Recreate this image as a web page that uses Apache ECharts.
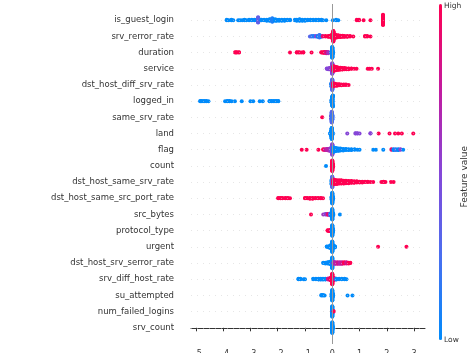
<!DOCTYPE html>
<html>
<head>
<meta charset="utf-8">
<title>shap summary</title>
<script src="https://cdn.jsdelivr.net/npm/echarts@6/dist/echarts.min.js"></script>
<style>
html, body { margin: 0; padding: 0; background: #fff; }
#chart { width: 474px; height: 353px; }
</style>
</head>
<body>
<div id="chart"></div>
<script>
// feature names, top to bottom
var features = ['is_guest_login', 'srv_rerror_rate', 'duration', 'service', 'dst_host_diff_srv_rate',
  'logged_in', 'same_srv_rate', 'land', 'flag', 'count', 'dst_host_same_srv_rate',
  'dst_host_same_src_port_rate', 'src_bytes', 'protocol_type', 'urgent', 'dst_host_srv_serror_rate',
  'srv_diff_host_rate', 'su_attempted', 'num_failed_logins', 'srv_count'];

// [shap value, feature value (0 low .. 1 high), number of samples]
var is_guest_login = [[-3.87,0,2],[-3.8,0,1],[-3.7,0,2],[-3.63,0,1],[-3.45,0,1],[-3.38,0,1],[-3.3,0,1],
  [-3.22,0,2],[-3.15,0,1],[-3.05,0,2],[-2.95,0,2],[-2.85,0,2],[-2.78,0,2],[-2.72,0.35,12],[-2.6,0,2],
  [-2.5,0,2],[-2.4,0,3],[-2.3,0,4],[-2.2,0.1,8],[-2.1,0,4],[-2.04,0,3],[-1.95,0,3],[-1.85,0,3],
  [-1.75,0,3],[-1.65,0,2],[-1.55,0,2],[-1.37,0,2],[-1.3,0,3],[-1.2,0,4],[-1.1,0,3],[-1.0,0,3],
  [-0.9,0,2],[-0.8,0,2],[-0.7,0,2],[-0.6,0,2],[-0.5,0,2],[-0.4,0,2],[-0.34,0,1],[-0.22,0,1],
  [0.02,0,1],[0.14,0,2],[0.22,0,1],[0.9,1,2],[0.98,1,2],[1.15,1,1],[1.4,1,1],[1.86,1,22]];
var srv_rerror_rate = [[-0.82,0.3,1],[-0.75,0.2,2],[-0.68,0.1,2],[-0.6,0.5,2],[-0.53,0,3],[-0.47,0.2,8],
  [-0.42,0.1,3],[-0.35,0.9,2],[-0.25,1,2],[-0.15,1,3],[-0.08,1,4],[0.0,1,12],[0.04,1,30],[0.1,1,10],
  [0.16,1,7],[0.22,1,6],[0.3,1,5],[0.38,1,4],[0.45,1,3],[0.55,1,3],[0.65,1,2],[0.77,1,1],[1.2,1,2],
  [1.28,1,2],[1.4,1,1]];
var duration = [[-3.56,1,2],[-3.5,1,2],[-3.42,1,2],[-1.55,1,1],[-1.3,1,2],[-1.22,1,2],[-1.14,1,1],
  [-1.06,1,2],[-0.76,1,1],[-0.4,1,2],[-0.33,1,3],[-0.27,1,4],[-0.22,0.8,5],[-0.17,1,3],[-0.15,0.6,2],
  [-0.02,0,10],[0.0,0,30],[0.02,0,8]];
var service = [[-0.2,0.5,2],[-0.15,0.5,3],[-0.1,0.5,4],[-0.05,0.55,6],[0,0.5,30],[0.04,1,14],[0.08,1,12],
  [0.13,1,10],[0.18,1,8],[0.24,1,7],[0.3,1,6],[0.37,1,5],[0.45,1,4],[0.52,1,3],[0.6,1,3],[0.7,1,2],
  [0.8,1,1],[0.89,1,1],[1.3,1,1],[1.37,1,1],[1.45,1,1],[1.68,1,1]];
var dst_host_diff_srv_rate = [[-0.03,0.1,10],[0,0.3,30],[0.03,1,10],[0.1,1,6],[0.17,1,5],[0.25,1,4],
  [0.33,1,3],[0.42,1,2],[0.5,1,2],[0.6,1,1]];
var logged_in = [[-4.84,0,2],[-4.78,0,2],[-4.7,0,2],[-4.62,0,2],[-4.54,0,1],[-3.93,0,1],[-3.85,0,2],
  [-3.77,0,2],[-3.69,0,1],[-3.57,0,1],[-3.32,0,1],[-3.0,0,1],[-2.9,0,1],[-2.66,0,1],[-2.55,0,1],
  [-2.3,0,2],[-2.22,0,2],[-2.14,0,2],[-2.06,0,2],[-1.98,0,2],[-0.02,0,15],[0,0,40],[0.02,0,10]];
var same_srv_rate = [[-0.37,1,1],[-0.04,0.4,8],[-0.02,0.3,30],[0,0.2,15]];
var land = [[-0.06,0,10],[-0.04,0,20],[-0.02,0,30],[0,0,15],[0.55,0.5,1],[0.85,0.5,2],[0.92,0.5,2],
  [1.0,0.5,1],[1.4,0.5,2],[1.7,1,1],[2.1,1,1],[2.3,1,1],[2.42,1,1],[2.55,1,1],[2.97,1,1]];
var flag = [[-1.12,1,1],[-0.94,1,1],[-0.51,1,1],[-0.33,1,2],[-0.27,0.8,3],[-0.2,0.7,4],[-0.14,0.7,5],
  [-0.08,0.6,7],[-0.03,0.5,12],[0,0.5,30],[0.04,0,14],[0.1,0,10],[0.16,0,8],[0.23,0,7],[0.3,0,6],
  [0.4,0,5],[0.5,0,4],[0.6,0,3],[0.7,0,3],[0.82,0,2],[0.92,0,1],[1.0,0,1],[1.5,0,1],[1.6,0,1],
  [1.87,0,1],[2.17,0.9,2],[2.25,0,3],[2.33,0.2,3],[2.42,0,3],[2.5,0.5,2],[2.6,0,1]];
var count = [[-0.23,0,1],[-0.01,0,10],[0,1,30],[0.02,1,10]];
var dst_host_same_srv_rate = [[-0.02,0,15],[0,0.3,30],[0.04,1,14],[0.1,1,12],[0.17,1,11],[0.25,1,10],
  [0.33,1,10],[0.42,1,9],[0.5,1,8],[0.6,1,7],[0.7,1,6],[0.8,1,5],[0.9,1,4],[1.0,1,3],[1.1,1,3],
  [1.2,1,2],[1.3,1,2],[1.4,1,1],[1.5,1,1],[1.8,1,1],[1.88,1,2],[1.95,1,1],[2.15,1,1],[2.25,1,1]];
var dst_host_same_src_port_rate = [[-1.98,1,2],[-1.9,1,2],[-1.83,1,2],[-1.72,1,2],[-1.63,1,2],[-1.55,1,1],
  [-1.0,1,2],[-0.92,1,2],[-0.82,1,3],[-0.72,1,3],[-0.62,1,2],[-0.52,1,2],[-0.42,1,2],[-0.34,1,1],
  [-0.02,0,10],[0,0,30],[0.02,0,8]];
var src_bytes = [[-0.78,1,1],[-0.33,0.6,1],[-0.25,0.5,2],[-0.2,0.6,2],[-0.15,0.9,3],[-0.08,0.3,5],
  [-0.03,0,10],[0,0,30],[0.03,0,6],[0.28,0,1]];
var protocol_type = [[-0.17,1,2],[-0.12,1,3],[-0.07,1,4],[-0.03,0.8,3],[0,0,30],[0.02,0,10]];
var urgent = [[-0.2,0,2],[-0.12,0,5],[-0.05,0,10],[0,0,30],[0.05,0,8],[0.1,0,3],[1.68,1,1],[2.72,1,1]];
var dst_host_srv_serror_rate = [[-0.33,0,2],[-0.25,0,3],[-0.17,0,4],[-0.1,0,6],[-0.04,0,10],[0,0,30],
  [0.05,0.6,6],[0.12,0.7,5],[0.2,0.8,5],[0.28,0.7,5],[0.36,0.8,5],[0.44,1,4],[0.52,0.8,4],[0.6,1,3],
  [0.66,1,2]];
var srv_diff_host_rate = [[-1.24,0,2],[-1.17,0,2],[-1.05,0,1],[-1.0,0,1],[-0.7,0,2],[-0.6,0,2],[-0.5,0,3],
  [-0.42,0,3],[-0.34,0,3],[-0.25,0,3],[-0.15,0.8,4],[-0.06,1,8],[0,1,30],[0.04,1,8],[0.1,0.8,4],
  [0.15,0,3],[0.25,0,2],[0.35,0,2],[0.45,0,2],[0.52,0,1]];
var su_attempted = [[-0.4,0,2],[-0.34,0,2],[-0.28,0,1],[-0.02,0,10],[0,0,30],[0.02,0,8],[0.56,0,1],[0.74,0,1]];
var num_failed_logins = [[-0.01,0,10],[0,0,30],[0.01,0,8],[0.05,1,2]];
var srv_count = [[-0.01,0,10],[0,0,30],[0.01,0,8]];

var rows = [is_guest_login, srv_rerror_rate, duration, service, dst_host_diff_srv_rate, logged_in,
  same_srv_rate, land, flag, count, dst_host_same_srv_rate, dst_host_same_src_port_rate, src_bytes,
  protocol_type, urgent, dst_host_srv_serror_rate, srv_diff_host_rate, su_attempted, num_failed_logins,
  srv_count];

var xTicks = [-5, -4, -3, -2, -1, 0, 1, 2, 3];

// beeswarm stacking like shap: bin the values, stack each bin up/down
function swarm(entries, pos) {
  var pts = [];
  entries.forEach(function (e) {
    for (var k = 0; k < e[2]; k++) pts.push([e[0], e[1]]);
  });
  var order = pts.map(function (p, i) { return i; });
  order.sort(function (a, b) { return (pts[a][0] - pts[b][0]) || (a - b); });
  var lo = pts[order[0]][0], hi = pts[order[order.length - 1]][0];
  var ys = [], last = null, layer = 0;
  order.forEach(function (i) {
    var q = Math.round(100 * (pts[i][0] - lo) / (hi - lo + 1e-8));
    if (q !== last) { layer = 0; last = q; }
    ys[i] = Math.ceil(layer / 2) * ((layer % 2) * 2 - 1);
    layer++;
  });
  var m = Math.max.apply(null, ys.map(function (y) { return y + 1; }));
  var s = 0.9 * 0.4 / m;
  return pts.map(function (p, i) { return [p[0], pos + ys[i] * s, p[1]]; });
}

var N = features.length;
var points = [];
rows.forEach(function (r, i) {
  points = points.concat(swarm(r, N - 1 - i));
});

var chart = echarts.init(document.getElementById('chart'));
chart.setOption({
  animation: false,
  textStyle: { fontFamily: 'DejaVu Sans' },
  grid: { left: 191, right: 49, top: 4, bottom: 9, containLabel: false, outerBoundsMode: 'none' },
  xAxis: {
    type: 'value',
    min: -5.18,
    max: 3.4,
    axisLine: { show: true, lineStyle: { color: '#333', width: 1 } },
    axisTick: { show: true, customValues: xTicks, length: 3.5, lineStyle: { color: '#333' } },
    axisLabel: {
      customValues: xTicks,
      fontSize: 8,
      color: '#333',
      margin: 6,
      formatter: function (v) { return v < 0 ? '\u2212' + (-v) : '' + v; }
    },
    splitLine: { show: false }
  },
  yAxis: {
    type: 'value',
    min: -1,
    max: N,
    interval: 1,
    axisLine: { show: false },
    axisTick: { show: false },
    splitLine: { show: false },
    axisLabel: {
      fontSize: 8.5,
      color: '#333',
      margin: 17,
      formatter: function (v) {
        var i = N - 1 - v;
        return (i >= 0 && i < N) ? features[i] : '';
      }
    }
  },
  visualMap: {
    type: 'continuous',
    dimension: 2,
    min: 0,
    max: 1,
    calculable: false,
    orient: 'vertical',
    left: 439,
    top: 4,
    padding: 0,
    itemWidth: 3,
    itemHeight: 336,
    seriesIndex: 1,
    inRange: { color: ['#008bfb', '#4a6ff0', '#8646d8', '#c41a9e', '#ff0052'] }
  },
  graphic: [
    { type: 'text', left: 444, top: 2, style: { text: 'High', fontSize: 7.5, fill: '#333', fontFamily: 'DejaVu Sans' } },
    { type: 'text', left: 444, top: 336, style: { text: 'Low', fontSize: 7.5, fill: '#333', fontFamily: 'DejaVu Sans' } },
    { type: 'text', left: 460, top: 146, rotation: Math.PI / 2,
      style: { text: 'Feature value', fontSize: 9, fill: '#333', fontFamily: 'DejaVu Sans' } }
  ],
  series: [
    {
      type: 'line',
      data: [],
      z: 1,
      silent: true,
      markLine: {
        silent: true,
        symbol: 'none',
        label: { show: false },
        animation: false,
        data: [{ xAxis: 0, lineStyle: { color: '#999', width: 1, type: 'solid' } }].concat(
          features.map(function (f, i) {
            return { yAxis: i, lineStyle: { color: '#ccc', width: 0.5, type: [1, 5] } };
          }))
      }
    },
    {
      type: 'scatter',
      z: 2,
      symbolSize: 4,
      itemStyle: { opacity: 1 },
      data: points
    }
  ]
});
</script>
</body>
</html>
